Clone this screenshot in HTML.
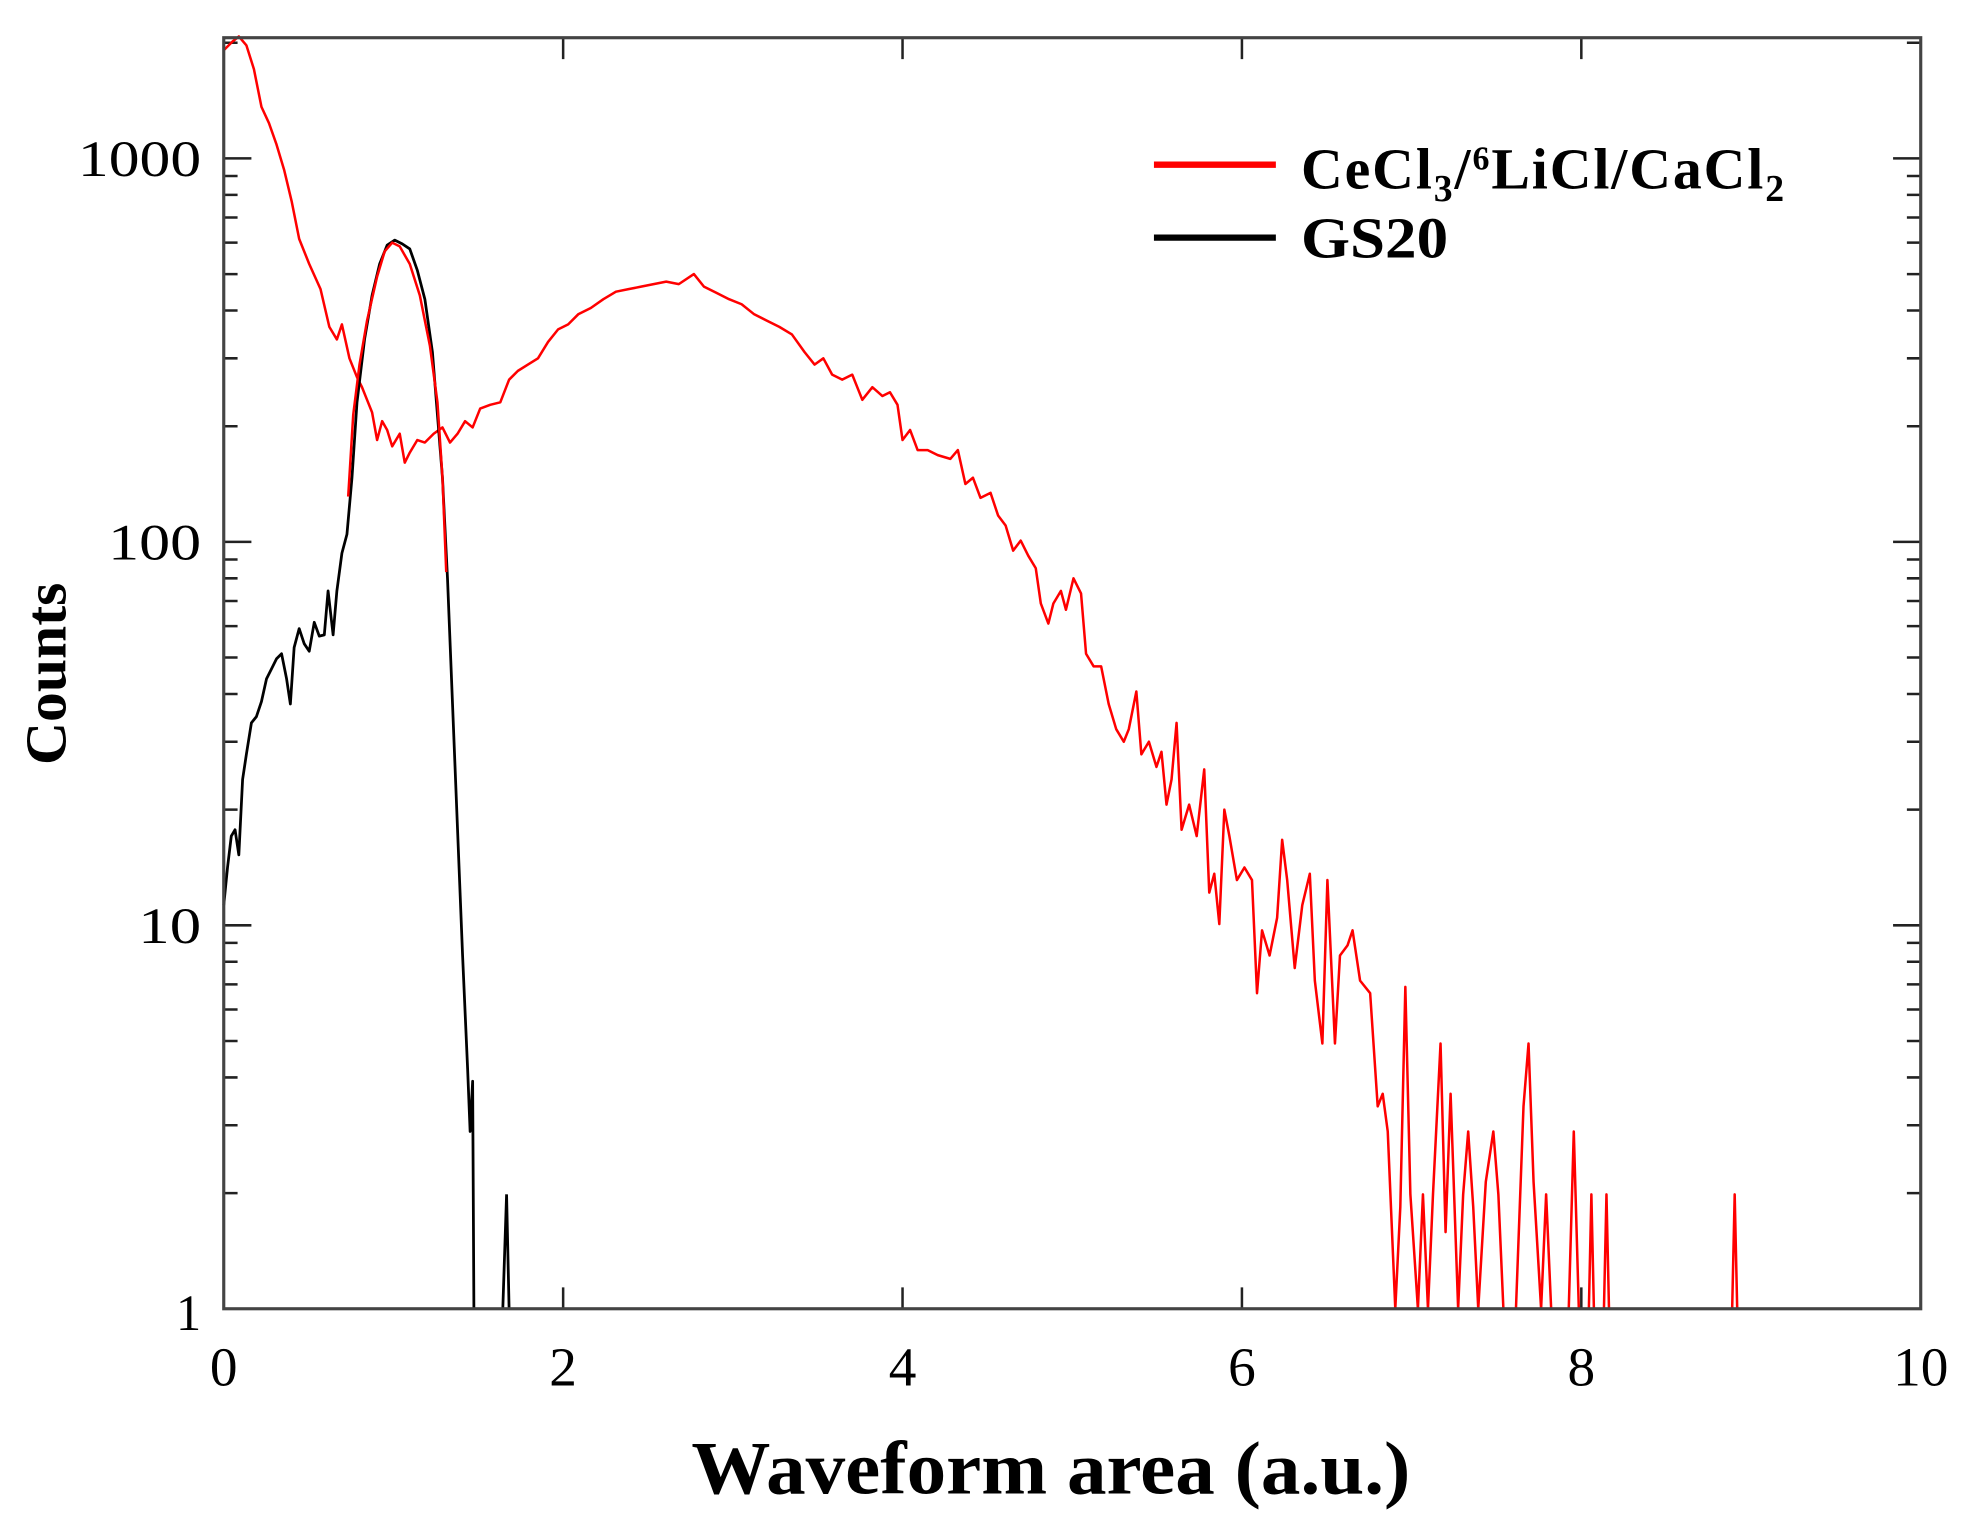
<!DOCTYPE html>
<html><head><meta charset="utf-8"><style>
html,body{margin:0;padding:0;background:#fff;}
svg{display:block}
</style></head><body>
<svg width="1971" height="1525" viewBox="0 0 1568 1213" preserveAspectRatio="none" xmlns="http://www.w3.org/2000/svg">
<rect width="1568" height="1213" fill="#fff"/>
<g stroke="#222" stroke-width="2" fill="none">
<path d="M448,1041v-17M718,1041v-17M988,1041v-17M1258,1041v-17M448,30v17M718,30v17M988,30v17M1258,30v17"/>
<path d="M178,126h22M178,431h22M178,736h22M1528,126h-22M1528,431h-22M1528,736h-22"/>
<path d="M178,949h11M178,895h11M178,857h11M178,828h11M178,803h11M178,783h11M178,765h11M178,750h11
M178,644h11M178,590h11M178,552h11M178,523h11M178,498h11M178,478h11M178,460h11M178,445h11
M178,339h11M178,285h11M178,247h11M178,218h11M178,193h11M178,173h11M178,155h11M178,140h11
M178,34h11
M1528,949h-11M1528,895h-11M1528,857h-11M1528,828h-11M1528,803h-11M1528,783h-11M1528,765h-11M1528,750h-11
M1528,644h-11M1528,590h-11M1528,552h-11M1528,523h-11M1528,498h-11M1528,478h-11M1528,460h-11M1528,445h-11
M1528,339h-11M1528,285h-11M1528,247h-11M1528,218h-11M1528,193h-11M1528,173h-11M1528,155h-11M1528,140h-11
M1528,34h-11"/>
</g>
<polyline fill="none" stroke="#ff0000" stroke-width="2" stroke-linejoin="round" points="
178,40 185,33 190,29 196,36 202,55 208,85 214,98 220,115 226,135 232,160 238,190 246,210 255,230 262,260 268,270 272,258 278,285 284,300 288,308 292,318 296,328 300,350 304,335 308,342 312,355 318,345 322,368 326,360 332,350 338,352 345,345 352,340 358,352 364,345 370,335 376,340 382,325 390,322 398,320 405,302 412,295 420,290 428,285 436,272 444,262 452,258 460,250 470,245 480,238 490,232 500,230 510,228 520,226 530,224 540,226 552,218 560,228 570,233 580,238 590,242 600,250 610,255 620,260 630,266 640,280 648,290 655,285 662,298 670,302 678,298 686,318 694,308 702,315 708,312 714,322 718,350 724,342 730,358 738,358 746,362 756,365 762,358 768,385 774,380 780,396 788,392 794,410 800,418 806,438 812,430 818,442 824,452 828,480 834,496 838,480 844,470 848,485 854,460 860,472 864,520 870,530 876,530 882,560 888,580 894,590 898,580 904,550 908,600 914,590 920,610 924,598 928,640 932,620 936,575 940,660 946,640 952,665 958,612 962,710 966,695 970,735 974,644 978,665 984,700 990,690 996,700 1000,790 1004,740 1010,760 1016,730 1020,668 1024,700 1030,770 1036,720 1042,695 1046,780 1052,830 1056,700 1062,830 1066,760 1072,752 1076,740 1082,780 1090,790 1096,880 1100,870 1104,900 1110,1041 1114,960 1118,785 1122,950 1128,1041 1132,950 1136,1041 1140,950 1146,830 1150,980 1154,870 1160,1041 1164,950 1168,900 1172,960 1176,1041 1182,940 1188,900 1192,950 1196,1041 1206,1041 1212,880 1216,830 1220,940 1226,1041 1230,950 1234,1041 1248,1041 1252,900 1256,1041 1264,1041 1266,950 1268,1041 1276,1041 1278,950 1280,1041 1378,1041 1380,950 1382,1041"/>
<polyline fill="none" stroke="#000" stroke-width="2.2" stroke-linejoin="round" points="
178,720 181,690 184,665 187,660 190,680 193,620 196,600 200,575 204,570 208,558 212,540 216,532 220,524 224,520 228,540 231,560 234,515 238,500 242,512 246,518 250,495 254,506 258,505 261,470 265,505 268,470 272,440 276,425 280,380 284,320 290,270 296,235 302,210 308,195 314,191 320,194 326,198 332,215 338,238 344,280 348,330 352,380 356,460 360,560 364,660 368,760 372,850 374,900 376,860 377,1041"/>
<polyline fill="none" stroke="#000" stroke-width="2.2" points="400,1041 403,950 405,1041"/>
<polyline fill="none" stroke="#ff0000" stroke-width="2" points="277,395 281,330 286,290 292,255 300,220 306,200 312,193 318,196 326,210 334,235 342,275 348,320 352,380 355,455"/>
<rect x="178" y="30" width="1350" height="1011" fill="none" stroke="#444" stroke-width="2.5"/>
<line x1="918" y1="131" x2="1015" y2="131" stroke="#ff0000" stroke-width="5"/>
<line x1="918" y1="189" x2="1015" y2="189" stroke="#000" stroke-width="5"/>
<g font-family="Liberation Serif, serif" font-weight="bold" font-size="46" fill="#000">
<text x="1035" y="150" letter-spacing="1.5">CeCl<tspan font-size="30" dy="10">3</tspan><tspan dy="-10">/</tspan><tspan font-size="27" dy="-15">6</tspan><tspan dy="15">LiCl/CaCl</tspan><tspan font-size="30" dy="10">2</tspan></text>
<text x="1035" y="205" textLength="117" lengthAdjust="spacingAndGlyphs">GS20</text>
</g>
<g font-family="Liberation Serif, serif" font-size="40" fill="#000">
<text x="62" y="140" textLength="98" lengthAdjust="spacingAndGlyphs">1000</text>
<text x="86" y="445" textLength="74" lengthAdjust="spacingAndGlyphs">100</text>
<text x="110" y="750" textLength="50" lengthAdjust="spacingAndGlyphs">10</text>
<text x="160" y="1058" text-anchor="end">1</text>
<g font-size="44">
<text x="178" y="1102" text-anchor="middle">0</text>
<text x="448" y="1102" text-anchor="middle">2</text>
<text x="718" y="1102" text-anchor="middle">4</text>
<text x="988" y="1102" text-anchor="middle">6</text>
<text x="1258" y="1102" text-anchor="middle">8</text>
<text x="1528" y="1102" text-anchor="middle">10</text>
</g>
</g>
<text x="550" y="1188" textLength="572" lengthAdjust="spacingAndGlyphs" font-family="Liberation Serif, serif" font-weight="bold" font-size="60">Waveform area (a.u.)</text>
<text transform="translate(52,536) rotate(-90)" text-anchor="middle" font-family="Liberation Serif, serif" font-weight="bold" font-size="46" textLength="145" lengthAdjust="spacingAndGlyphs">Counts</text>
</svg>
</body></html>
